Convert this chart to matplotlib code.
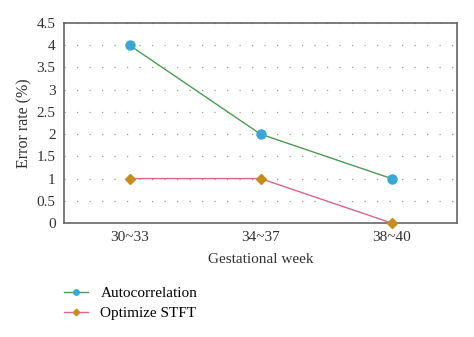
import matplotlib.pyplot as plt

plt.rcParams["font.family"] = ["Liberation Serif", "DejaVu Serif"]

weeks = ["30~33", "34~37", "38~40"]
autocorr = [4, 2, 1]
stft = [1, 1, 0]

fig = plt.figure(figsize=(4.74, 3.37), dpi=100)
ax = fig.add_axes([64 / 474, 1 - 223 / 337, (457 - 64) / 474, (223 - 23) / 337])

x = range(len(weeks))
ax.plot(x, autocorr, color="#4e9a55", linewidth=1, marker="o", markersize=6.5,
        markerfacecolor="#3aa6d6", markeredgecolor="#3aa6d6", label="Autocorrelation",
        clip_on=False, zorder=3)
ax.plot(x, stft, color="#d8668a", linewidth=1, marker="D", markersize=5.5,
        markerfacecolor="#c68c1c", markeredgecolor="#c68c1c", label="Optimize STFT",
        clip_on=False, zorder=3)

ax.set_xlim(-0.5, 2.5)
ax.set_ylim(0, 4.5)
ax.set_xticks(list(x))
ax.set_xticklabels(weeks)
ax.set_yticks([i * 0.5 for i in range(10)])
ax.set_yticklabels(["0", "0.5", "1", "1.5", "2", "2.5", "3", "3.5", "4", "4.5"])
ax.tick_params(length=0, labelsize=11, colors="#333333", pad=6)
ax.yaxis.grid(True, linestyle=(0, (1, 9)), color="#999999", linewidth=0.9)
ax.set_axisbelow(True)
for s in ax.spines.values():
    s.set_color("#666666")
    s.set_linewidth(1.2)

ax.set_xlabel("Gestational week", fontsize=11, color="#333333", labelpad=6)
ax.set_ylabel("Error rate (%)", fontsize=11.5, color="#333333", labelpad=3)

fig.legend(loc="upper left", bbox_to_anchor=(50 / 474, 1 - 273 / 337), frameon=False,
           fontsize=11, handlelength=1.6, markerscale=0.6, labelspacing=0.4,
           handletextpad=0.8)

fig.savefig("out.png", dpi=100)
